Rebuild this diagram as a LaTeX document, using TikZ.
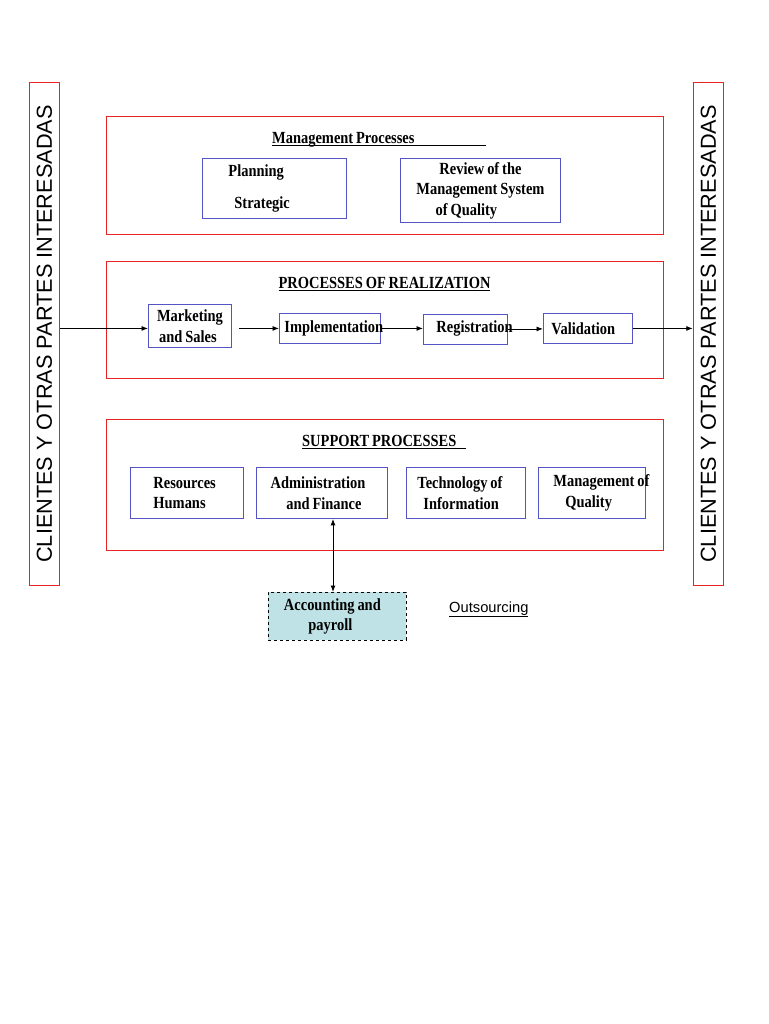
\documentclass[tikz,border=0pt]{standalone}
\usepackage{fontspec}
\setmainfont{Liberation Serif}
\newfontfamily\boxfont{Liberation Serif}[FakeStretch=0.85, WordSpace=0.8]
\newfontfamily\sidefont{Liberation Sans}
\usetikzlibrary{arrows.meta,calc}
\definecolor{frred}{RGB}{230,36,36}
\definecolor{bxblue}{RGB}{84,84,196}
\definecolor{accfill}{RGB}{190,226,229}
\newsavebox\ulsave
\newcommand\titleul[2]{\sbox\ulsave{#1\hspace*{#2}}\rlap{\rule[-2.6pt]{\wd\ulsave}{1.1pt}}\usebox\ulsave}
\begin{document}
\begin{tikzpicture}[x=1pt,y=-1pt,
  frame/.style={draw=frred, line width=1pt, inner sep=0pt},
  sidebar/.style={frame, line width=1.5pt, minimum width=30pt, minimum height=503pt},
  sidetext/.style={rotate=90, inner sep=0pt, font=\sidefont\fontsize{21.7}{24}\selectfont},
  bigframe/.style={frame, anchor=north west, minimum width=557pt},
  procbox/.style={draw=bxblue, line width=0.9pt, inner ysep=0pt, anchor=north west,
    font=\boxfont\bfseries\fontsize{17}{20.5}\selectfont},
  title/.style={inner sep=0pt, font=\boxfont\bfseries\fontsize{17}{20.5}\selectfont},
  arr/.style={line width=0.9pt, -{Latex[length=6.5pt,width=5pt]}},
  darr/.style={line width=0.9pt, {Latex[length=6.5pt,width=5pt]}-{Latex[length=6.5pt,width=5pt]}}
]
\useasboundingbox (0,0) rectangle (768,1024);
\fill[white] (0,0) rectangle (768,1024);

% side bars
\node[sidebar] (leftbar) at (44.5,334) {};
\node[sidetext] (lefttext) at (leftbar.center) {CLIENTES Y OTRAS PARTES INTERESADAS};
\node[sidebar] (rightbar) at (708.5,334) {};
\node[sidetext] (righttext) at (rightbar.center) {CLIENTES Y OTRAS PARTES INTERESADAS};

% management processes
\node[bigframe, minimum height=118pt] (mgmt) at (106,116) {};
\node[title, anchor=base west] (mtitle) at (272,143.5) {\titleul{Management Processes}{72pt}};
\node[procbox, minimum width=144pt, minimum height=60pt, text width=92pt, inner xsep=26pt, align=flush left]
  (plan) at (202,158) {\mbox{Planning}\\[11pt]\hspace*{6pt}\mbox{Strategic}};
\node[procbox, minimum width=160pt, minimum height=64pt, align=center]
  (review) at (400,158) {Review of the\\Management System\\\hspace*{-28pt}of Quality};

% realization processes
\node[bigframe, minimum height=117pt] (real) at (106,261) {};
\node[title, anchor=base] (rtitle) at (384.5,288.5) {\titleul{PROCESSES OF REALIZATION}{0pt}};
\node[procbox, minimum width=83pt, minimum height=43pt, align=center]
  (mkt) at (148,304) {Marketing\\\hspace*{-4pt}and Sales};
\node[procbox, minimum width=101pt, minimum height=30pt, text width=91pt, inner xsep=5pt, align=flush left]
  (impl) at (279,313) {Implementation};
\node[procbox, minimum width=84pt, minimum height=30pt, text width=58pt, inner xsep=13pt, align=flush left]
  (reg) at (423,313.5) {Registration};
\node[procbox, minimum width=89pt, minimum height=30pt, text width=73pt, inner xsep=8pt, align=flush left]
  (val) at (543,313) {Validation};

% support processes
\node[bigframe, minimum height=131pt] (supp) at (106,419) {};
\node[title, anchor=base west] (stitle) at (302,446.5) {\titleul{SUPPORT PROCESSES}{10pt}};
\node[procbox, minimum width=113pt, minimum height=51pt, text width=67pt, inner xsep=23pt, align=flush left]
  (hr) at (130,467) {\mbox{Resources}\\\mbox{Humans}};
\node[procbox, minimum width=131pt, minimum height=51pt, align=center]
  (adm) at (256,467) {\hspace*{-8pt}Administration\\\hspace*{4pt}and Finance};
\node[procbox, minimum width=119pt, minimum height=51pt, text width=97pt, inner xsep=11pt, align=flush left]
  (tech) at (406,467) {\mbox{Technology of}\\\hspace*{6pt}\mbox{Information}};
\node[procbox, minimum width=107pt, minimum height=51pt, text width=77pt, inner xsep=15pt, align=flush left]
  (qual) at (538,467) {\mbox{Management of}\\\hspace*{12pt}\mbox{Quality}};

% outsourcing
\node[procbox, draw=black, dashed, line width=0.8pt, fill=accfill, minimum width=138pt, minimum height=48pt, align=center]
  (acc) at (268,592) {\hspace*{-10pt}Accounting and\\\hspace*{-14pt}payroll};
\node[inner sep=0pt, anchor=base west, font=\sidefont\fontsize{14.7}{17}\selectfont]
  (outs) at (449,612) {\underline{Outsourcing}};

% connectors
\coordinate (ax) at (333,0);
\draw[arr] (leftbar.east |- impl.west) -- (impl.west -| mkt.west);
\draw[arr, shorten <=7pt] (mkt.east |- impl.west) -- (impl.west);
\draw[arr] (impl.east) -- (impl.east -| reg.west);
\draw[arr] (reg.east) -- (reg.east -| val.west);
\draw[arr] (val.east) -- (rightbar.west |- val.east);
\draw[darr] (adm.south -| ax) -- (acc.north -| ax);
\end{tikzpicture}
\end{document}
